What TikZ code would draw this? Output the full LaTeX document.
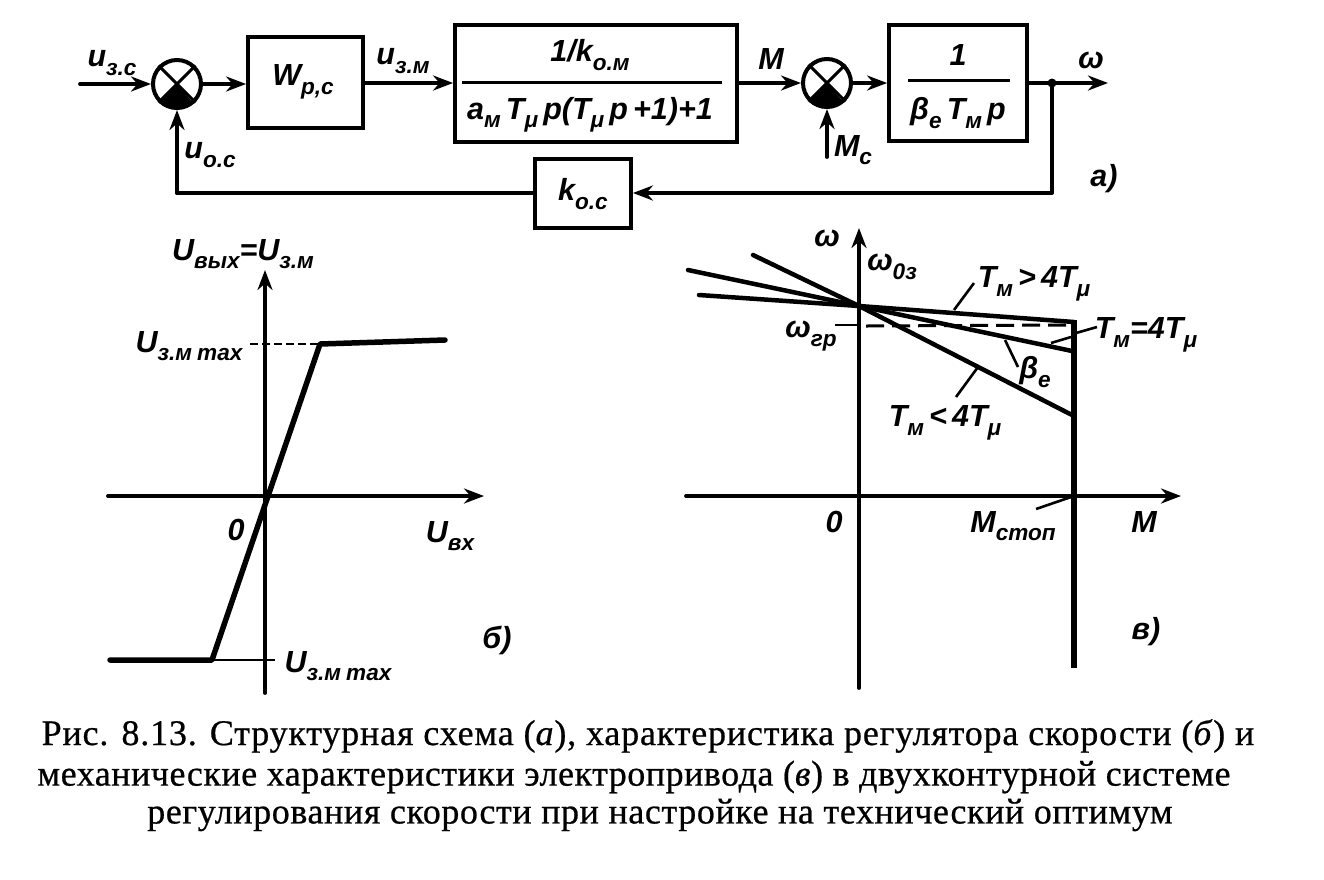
\documentclass[tikz,border=0pt]{standalone}
\usepackage{fontspec}
\setmainfont{Liberation Serif}
\newfontfamily\lblfont{Liberation Sans}
\newfontfamily\captfonta{Liberation Serif}[LetterSpace=2.3,FakeBold=0.6]
\newfontfamily\captfontb{Liberation Serif}[LetterSpace=1.45,FakeBold=0.6]
\newfontfamily\captfontc{Liberation Serif}[LetterSpace=1.65,FakeBold=0.6]
\usetikzlibrary{arrows.meta}
\newcommand{\sbs}[1]{\raisebox{-0.28em}{\scalebox{0.74}{#1}}}
\tikzset{
  x=1pt,y=-1pt,
  wire/.style={line width=3.8pt,line cap=round,line join=round},
  flow/.style={wire,-{Stealth[length=20pt,width=15pt]}},
  block/.style={draw,line width=3.8pt,inner sep=0pt,anchor=center},
  summer/.style={circle,draw,line width=4pt,minimum size=48pt,inner sep=0pt},
  lbl/.style={inner sep=0pt,font=\lblfont\bfseries\itshape\fontsize{30.5}{33}\selectfont},
  capt/.style={inner sep=0pt,fontsize36,anchor=center},
  fontsize36/.style={font=\fontsize{36}{40}\selectfont},
  curve/.style={line width=5.5pt,line join=round,line cap=round},
  char/.style={line width=4.5pt,line cap=round},
  leader/.style={line width=2.6pt},
}
\begin{document}
\begin{tikzpicture}
\useasboundingbox (0,0) rectangle (1324,879);
\fill[white] (0,0) rectangle (1324,879);
% block diagram
\node[summer] (s1) at (177,84) {};
\node[summer] (s2) at (827,83) {};
\foreach \s in {s1,s2}{
  \fill (\s.center) -- (\s.-135) arc[start angle=-135,end angle=-45,radius=24pt] -- cycle;
  \draw[line width=3pt] (\s.45) -- (\s.-135) (\s.135) -- (\s.-45);
}
\node[block,minimum width=115pt,minimum height=91pt] (w) at (305.5,82.5) {};
\node[block,minimum width=282pt,minimum height=117pt] (f1) at (596,83.5) {};
\node[block,minimum width=138pt,minimum height=116pt] (f2) at (958,83) {};
\node[block,minimum width=96pt,minimum height=69pt] (k) at (583,193.5) {};
\coordinate (in) at (80,84);
\coordinate (out) at (1108,83);
\coordinate (j) at (1052,83);
\coordinate (jd) at (1052,193);
\coordinate (fb) at (177,193);
\coordinate (mc) at (827,157);
\fill (j) circle (4.5pt);
\draw[flow] (in) -- (s1.west);
\draw[flow] (s1.east) -- (s1.east -| w.west);
\draw[flow] (w.east |- 0,83) -- (f1.west |- 0,83);
\draw[flow] (f1.east |- 0,83) -- (s2.west);
\draw[flow] (s2.east) -- (f2.west |- s2.east);
\draw[flow] (f2.east |- 0,83) -- (out);
\draw[flow] (j) -- (jd) -- (k.east |- jd);
\draw[wire] (k.west |- fb) -- (fb);
\draw[flow] (fb) -- (s1.south);
\draw[flow] (mc) -- (s2.south);
\draw[line width=3pt] (462,82) -- (722,82);
\draw[line width=3pt] (908,80) -- (1010,80);
\node[lbl] (l1) at (112,63) {u\sbs{з.с}};
\node[lbl] (l2) at (303,82) {W\sbs{р,с}};
\node[lbl] (l3) at (403,61) {u\sbs{з.м}};
\node[lbl] (l4) at (590,55) {1/k\sbs{о.м}};
\node[lbl] (l5) at (590,115) {a\sbs{м}\,T\sbs{μ}\,p(T\sbs{μ}\,p\,+1)+1};
\node[lbl] (l6) at (771,59) {M};
\node[lbl] (l7) at (1091,60) {ω};
\node[lbl] (l8) at (853,150) {M\sbs{с}};
\node[lbl] (l9) at (210,155) {u\sbs{о.с}};
\node[lbl] (l10) at (583,194) {k\sbs{о.с}};
\node[lbl] (l11) at (958,55) {1};
\node[lbl] (l12) at (958,113) {β\sbs{е}\,T\sbs{м}\,p};
\node[lbl] (l13) at (1104,179) {a)};
% graph b
\coordinate (bx0) at (108,496); \coordinate (bx1) at (484,496);
\coordinate (by0) at (265,693); \coordinate (by1) at (265,270);
\draw[flow] (bx0) -- (bx1);
\draw[flow] (by0) -- (by1);
\draw[leader,dash pattern=on 8pt off 4pt] (250,344) -- (320,344);
\draw[leader] (212,660) -- (275,660);
\draw[curve] (110,660) -- (212,660) -- (320,344) -- (445,340);
\node[lbl] (b1) at (243,254) {U\sbs{вых}=U\sbs{з.м}};
\node[lbl] (b2) at (189,346) {U\sbs{з.м}\,\sbs{max}};
\node[lbl] (b3) at (338,666) {U\sbs{з.м}\,\sbs{max}};
\node[lbl] (b4) at (236,530) {0};
\node[lbl] (b5) at (450,536) {U\sbs{вх}};
\node[lbl] (b6) at (497,640) {б)};
% graph c
\coordinate (cx0) at (686,496); \coordinate (cx1) at (1181,496);
\coordinate (cy0) at (859,688); \coordinate (cy1) at (859,228);
\coordinate (o) at (859,306);
\draw[flow] (cx0) -- (cx1);
\draw[flow] (cy0) -- (cy1);
\draw[char] (753,255) -- (o) -- (1074,416);
\draw[char] (688,270) -- (o) -- (1072,351);
\draw[char] (699,295) -- (o) -- (1074,322);
\draw[line width=6pt] (1074,320) -- (1074,668);
\draw[line width=3pt,dash pattern=on 18pt off 8pt] (866,326) -- (1070,325);
\draw[leader] (835,325) -- (859,325);
\draw[leader] (974,283) -- (954,310);
\draw[leader] (1097,327) -- (1076,333);
\draw[leader] (1051,343) -- (1071,337);
\draw[leader] (1005,340) -- (1018,367);
\draw[leader] (978,367) -- (956,397);
\draw[leader] (1036,509) -- (1074,496);
\node[lbl] (c1) at (827,238) {ω};
\node[lbl] (c2) at (892,267) {ω\sbs{0з}};
\node[lbl] (c3) at (1034,284) {T\sbs{м}\,>\,4T\sbs{μ}};
\node[lbl] (c4) at (1146,335) {T\sbs{м}=4T\sbs{μ}};
\node[lbl] (c5) at (811,336) {ω\sbs{гр}};
\node[lbl] (c6) at (1035,372) {β\sbs{е}};
\node[lbl] (c7) at (945,423) {T\sbs{м}\,<\,4T\sbs{μ}};
\node[lbl] (c8) at (834,522) {0};
\node[lbl] (c9) at (1013,526) {M\sbs{стоп}};
\node[lbl] (c10) at (1144,522) {M};
\node[lbl] (c11) at (1146,632) {в)};
% caption
\node[capt] (t1) at (648,736) {\captfonta Рис. 8.13. Структурная схема (\textit{а}), характеристика регулятора скорости (\textit{б}) и};
\node[capt] (t2) at (634,777) {\captfontb механические характеристики электропривода (\textit{в}) в двухконтурной системе};
\node[capt] (t3) at (660,815) {\captfontc регулирования скорости при настройке на технический оптимум};
\end{tikzpicture}
\end{document}
